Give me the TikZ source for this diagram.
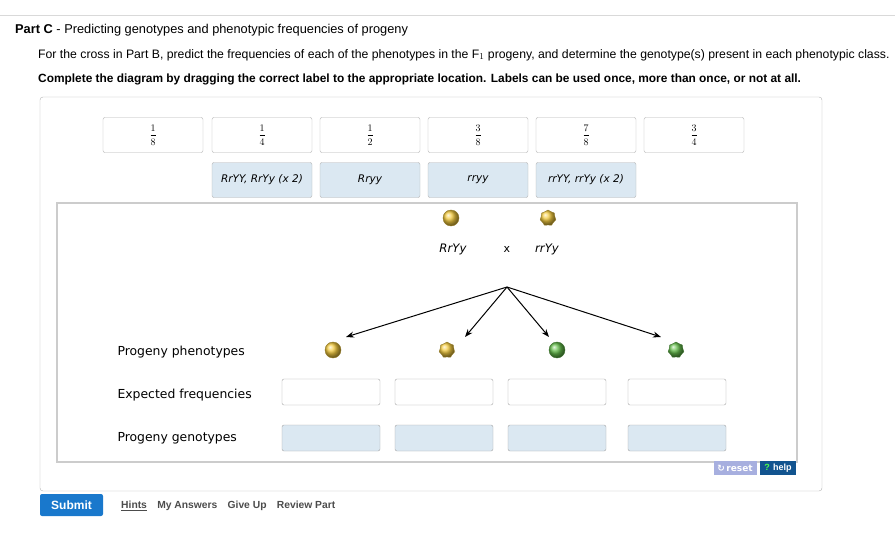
\documentclass[tikz,border=0pt]{standalone}
\usepackage{fontspec}
\setmainfont{Liberation Sans}
\newfontfamily\verd{DejaVu Sans}
\usetikzlibrary{arrows.meta,shapes.geometric}
\definecolor{tileblue}{rgb}{0.86,0.91,0.95}
\definecolor{btnblue}{rgb}{0.10,0.47,0.80}
\definecolor{peayellow}{rgb}{0.96,0.80,0.25}
\definecolor{peagreen}{rgb}{0.40,0.75,0.30}
\tikzset{
  tile/.style={draw=gray!60,rounded corners=2pt,minimum width=100pt,minimum height=35pt,inner sep=0pt,fill=white,font=\fontsize{10}{12}\selectfont},
  gtile/.style={tile,fill=tileblue,font=\verd\itshape\fontsize{10.5}{13}\selectfont},
  slot/.style={draw=gray!70,rounded corners=2pt,minimum width=98pt,minimum height=26pt,inner sep=0pt,fill=white},
  gslot/.style={slot,fill=tileblue},
  rowlab/.style={anchor=west,font=\verd\fontsize{12.4}{14}\selectfont},
  pea/.style={circle,minimum size=16pt,inner sep=0pt,draw=#1!60!black,ball color=#1},
  wpea/.style={pea=#1,star,star points=7,star point ratio=1.15}
}
\begin{document}
\begin{tikzpicture}[x=1pt,y=-1pt]
\useasboundingbox (0,0) rectangle (895,538);
\draw[gray!30] (0,15) -- (895,15);
\node[anchor=west,font=\fontsize{12.8}{14}\selectfont,inner sep=0pt] (title) at (15,30) {\textbf{Part C} - Predicting genotypes and phenotypic frequencies of progeny};
\node[anchor=west,font=\fontsize{12.25}{14}\selectfont,inner sep=0pt] (q) at (38,55) {For the cross in Part B, predict the frequencies of each of the phenotypes in the F$_1$ progeny, and determine the genotype(s) present in each phenotypic class.};
\node[anchor=west,font=\bfseries\fontsize{11.9}{14}\selectfont,inner sep=0pt] (instr) at (38,79) {Complete the diagram by dragging the correct label to the appropriate location. Labels can be used once, more than once, or not at all.};
\draw[gray!60,rounded corners=3pt] (40,97) rectangle (822,491);
% fraction labels
\foreach \x/\n/\d [count=\i] in {153/1/8,262/1/4,370/1/2,478/3/8,586/7/8,694/3/4}
  \node[tile] (f\i) at (\x,135) {$\displaystyle\frac{\n}{\d}$};
% genotype labels
\node[gtile] (g1) at (262,180) {RrYY, RrYy (x 2)};
\node[gtile] (g2) at (370,180) {Rryy};
\node[gtile] (g3) at (478,180) {rryy};
\node[gtile] (g4) at (586,180) {rrYY, rrYy (x 2)};
\draw[gray!40,line width=2pt,fill=white] (57,203) rectangle (797,462);
% parents
\node[pea=peayellow] (p1) at (451,218) {};
\node[wpea=peayellow] (p2) at (548,218) {};
\node[font=\verd\itshape\fontsize{11.7}{13}\selectfont] (l1) at (453,249) {RrYy};
\node[font=\verd\fontsize{11}{13}\selectfont] (cross) at (507,249) {x};
\node[font=\verd\itshape\fontsize{11.7}{13}\selectfont] (l2) at (547,249) {rrYy};
\coordinate (b) at (507,287);
% progeny
\node[pea=peayellow] (c1) at (333,350) {};
\node[wpea=peayellow] (c2) at (447,350) {};
\node[pea=peagreen] (c3) at (557,350) {};
\node[wpea=peagreen] (c4) at (676,350) {};
\foreach \t/\e in {(346,337)/c1,(465,337)/c2,(549,337)/c3,(661,337)/c4}
  \draw[-{Stealth[length=8pt]},line width=1pt] (b) -- \t;
\node[rowlab] (r1) at (114,352) {Progeny phenotypes};
\node[rowlab] (r2) at (114,395) {Expected frequencies};
\node[rowlab] (r3) at (114,438) {Progeny genotypes};
\foreach \x [count=\i] in {331,444,557,677}{
  \node[slot] (e\i) at (\x,392) {};
  \node[gslot] (s\i) at (\x,438) {};
}
\node[fill=cyan!30!blue!35,text=white,font=\bfseries\fontsize{9}{10}\selectfont,minimum width=43pt,minimum height=14pt,inner sep=0pt] (reset) at (735,468) {\verd\symbol{"21BB}\,reset};
\node[fill=btnblue!70!black,text=white,font=\bfseries\fontsize{9}{10}\selectfont,minimum width=36pt,minimum height=14pt,inner sep=0pt] (help) at (778,468) {{\color{green!70}?} help};
\node[fill=btnblue,rounded corners=2pt,text=white,font=\bfseries\fontsize{12}{14}\selectfont,minimum width=63pt,minimum height=22pt,inner sep=0pt] (submit) at (71.5,505) {Submit};
\node[anchor=west,font=\bfseries\fontsize{10.3}{12}\selectfont,text=black!70,inner sep=0pt] (links) at (121,506) {\underline{Hints}\quad My Answers\quad Give Up\quad Review Part};
\end{tikzpicture}
\end{document}
